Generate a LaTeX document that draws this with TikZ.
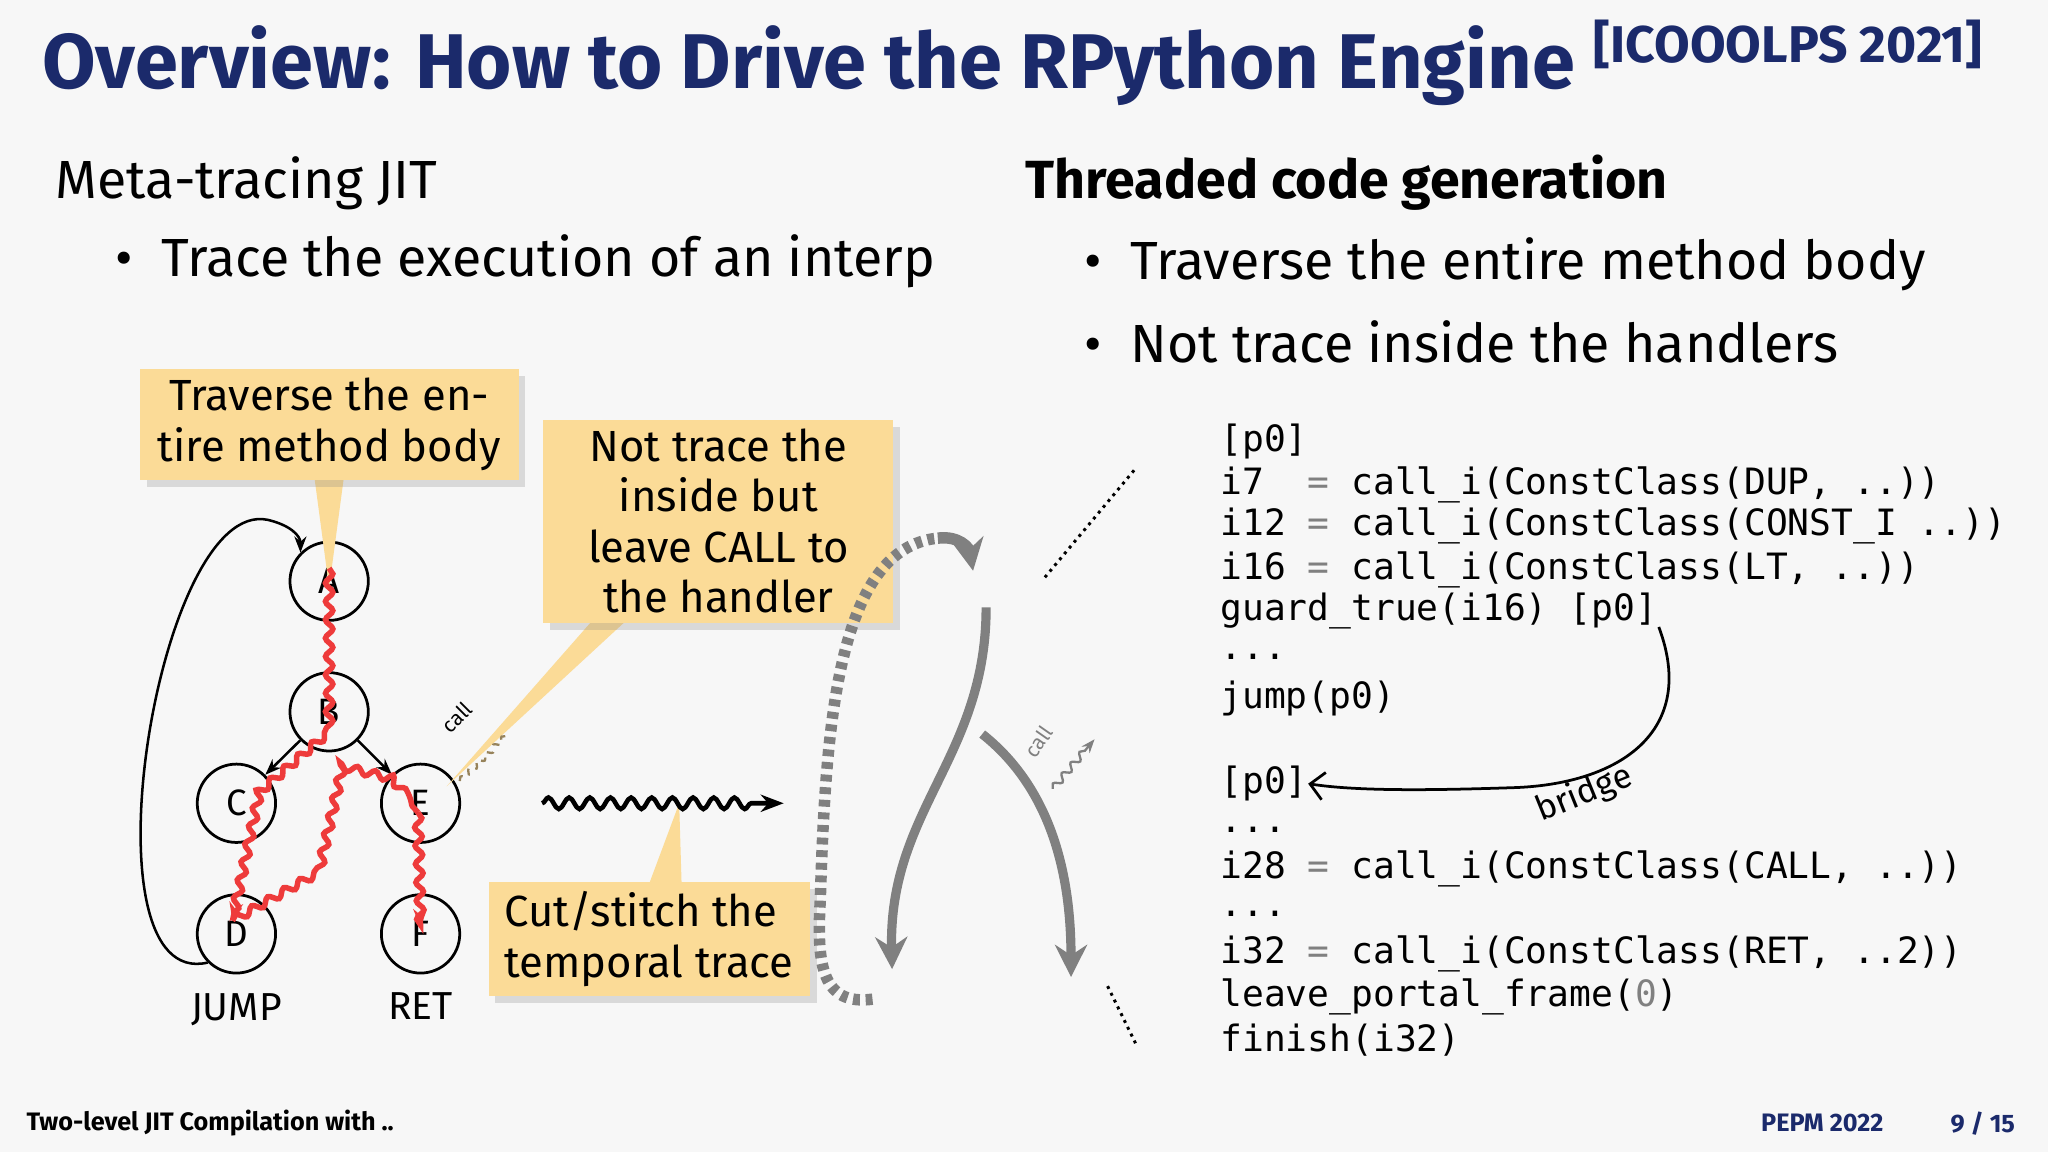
\documentclass[tikz,border=0pt]{standalone}
\usepackage{fontspec}
\setmainfont{Fira Sans}
\newfontfamily\codefont{DejaVu Sans Mono}
\usetikzlibrary{decorations.pathmorphing,shadows,arrows.meta}
\definecolor{titleblue}{HTML}{1B2A6B}
\definecolor{noteyellow}{HTML}{FBDB97}
\definecolor{graygray}{HTML}{808080}
\definecolor{trace}{HTML}{EE3B3B}
\begin{document}
\begin{tikzpicture}[x=0.02cm,y=-0.02cm,
  note/.style={fill=noteyellow,draw=none,inner sep=4pt,font=\fontsize{19}{22}\selectfont,drop shadow={shadow xshift=3pt,shadow yshift=-3pt,opacity=0.25}},
  st/.style={circle,draw,line width=1.2pt,minimum size=1.2cm,inner sep=0pt,font=\fontsize{16}{18}\selectfont},
  code/.style={anchor=west,inner sep=0pt,font=\codefont\fontsize{15.8}{18}\selectfont},
  body/.style={anchor=west,inner sep=0pt,font=\fontsize{23.4}{26}\selectfont},
  wav/.style={decorate,decoration={snake,amplitude=1.6pt,segment length=8pt}},
  gline/.style={draw=graygray,line width=4pt,-{Stealth[length=14pt,width=14pt]}}]
\useasboundingbox (0,0) rectangle (1568,882);
\fill[white!97!black] (0,0) rectangle (1568,882);
% title
\node[anchor=base west,inner sep=0pt,text=titleblue,font=\bfseries\fontsize{33.8}{36}\selectfont] (title) at (32,68) {Overview: How to Drive the RPython Engine};
\node[anchor=base west,inner sep=0pt,text=titleblue,font=\bfseries\fontsize{22.5}{24}\selectfont] (ref) at (1220,48) {[ICOOOLPS 2021]};
% left text
\node[body] (l1) at (42,140) {Meta-tracing JIT};
\node[body] (l2) at (88,200) {\textbullet\ \ Trace the execution of an interp};
\node[body,font=\bfseries\fontsize{23.4}{26}\selectfont] (r1) at (785,140) {Threaded code generation};
\node[body] (r2) at (830,202) {\textbullet\ \ Traverse the entire method body};
\node[body] (r3) at (830,262) {\textbullet\ \ Not trace inside the handlers};
% graph
\node[st] (A) at (252,445) {A};
\node[st] (B) at (252,545) {B};
\node[st] (C) at (181,615) {C};
\node[st] (E) at (322,615) {E};
\node[st] (D) at (181,715) {D};
\node[st] (F) at (322,715) {F};
\node[font=\fontsize{17}{19}\selectfont] (jump) at (181,773) {JUMP};
\node[font=\fontsize{17}{19}\selectfont] (ret) at (322,770) {RET};
\draw[line width=1.1pt,-{Stealth[length=7pt]}] (B) -- (C);
\draw[line width=1.1pt,-{Stealth[length=7pt]}] (B) -- (E);
\draw[line width=1.1pt,-{Stealth[length=7pt]}] (D.south west) .. controls (60,760) and (120,380) .. (205,398) .. controls (222,402) and (230,410) .. (A.north west);
% notes
\fill[noteyellow] (240,360) -- (252,450) -- (264,360) -- cycle;
\fill[noteyellow] (458,470) -- (342,602) -- (485,470) -- cycle;
\fill[noteyellow] (495,682) -- (520,615) -- (522,682) -- cycle;
\node[note,minimum width=5.8cm,minimum height=1.66cm,align=center] (n1) at (252,325) {Traverse the en-\\tire method body};
\node[note,minimum width=5.36cm,minimum height=3.08cm,align=center] (n2) at (550,399) {Not trace the\\inside but\\leave CALL to\\the handler};
\node[note,minimum width=4.92cm,minimum height=1.7cm,align=left] (n3) at (497,719) {Cut/stitch the\\temporal trace};
% red trace
\draw[trace,line width=2.4pt,wav,-{Stealth[length=8pt]}] (252,435) -- (252,555) -- (200,600) -- (178,705);
\draw[trace,line width=2.4pt,wav] (178,705) -- (240,670) -- (258,590) -- (300,600) -- (320,622);
\draw[trace,line width=2.4pt,wav,-{Stealth[length=8pt]}] (320,622) -- (322,710);
\node[rotate=45,font=\fontsize{9}{10}\selectfont] (call1) at (350,549) {call};
\coordinate (cw1) at (352,598);
\coordinate (cw2) at (388,563);
\draw[noteyellow!60!black,line width=1pt,dashed,decorate,decoration={snake,amplitude=1.2pt,segment length=5pt}] (cw1) -- (cw2);
% black wave arrow
\coordinate (w1) at (415,615);
\coordinate (w2) at (600,615);
\draw[line width=2pt,decorate,decoration={snake,amplitude=2.5pt,segment length=9pt,post length=10pt},-{Stealth[length=10pt]}] (w1) -- (w2);
% gray
\coordinate (g1) at (668,765);
\coordinate (g2) at (745,437);
\draw[graygray,line width=5pt,dash pattern=on 3pt off 2.5pt] (g1) .. controls (630,770) and (625,740) .. (628,690) .. controls (632,560) and (640,420) .. (718,412);
\draw[graygray,line width=5pt,-{Stealth[length=14pt,width=14pt]}] (718,412) .. controls (735,410) and (742,420) .. (g2);
\coordinate (s1) at (755,465);
\coordinate (s2) at (683,742);
\coordinate (t1) at (752,562);
\coordinate (t2) at (820,748);
\draw[gline] (s1) .. controls (755,580) and (680,620) .. (s2);
\draw[gline] (t1) .. controls (800,600) and (820,660) .. (t2);
\node[rotate=55,text=graygray,font=\fontsize{9}{10}\selectfont] (call2) at (795,568) {call};
\coordinate (cg1) at (806,604);
\coordinate (cg2) at (838,566);
\draw[graygray,line width=1pt,decorate,decoration={snake,amplitude=1.5pt,segment length=6pt,post length=5pt},-{Stealth[length=6pt]}] (cg1) -- (cg2);
\coordinate (d1) at (800,442); \coordinate (d2) at (870,358);
\draw[line width=1.3pt,dotted] (d1) -- (d2);
\coordinate (d3) at (848,755); \coordinate (d4) at (870,800);
\draw[line width=1.3pt,dotted] (d3) -- (d4);
% code
\node[code] (c1) at (934,338) {[p0]};
\node[code] (c2) at (934,371) {i7\ \ \textcolor{gray}{=} call\_i(ConstClass(DUP, ..))};
\node[code] (c3) at (934,403) {i12 \textcolor{gray}{=} call\_i(ConstClass(CONST\_I ..))};
\node[code] (c4) at (934,436) {i16 \textcolor{gray}{=} call\_i(ConstClass(LT, ..))};
\node[code] (c5) at (934,468) {guard\_true(i16) [p0]};
\node[code] (c6) at (934,503) {...};
\node[code] (c7) at (934,535) {jump(p0)};
\node[code] (c8) at (934,600) {[p0]};
\node[code] (c9) at (934,635) {...};
\node[code] (c10) at (934,665) {i28 \textcolor{gray}{=} call\_i(ConstClass(CALL, ..))};
\node[code] (c11) at (934,700) {...};
\node[code] (c12) at (934,730) {i32 \textcolor{gray}{=} call\_i(ConstClass(RET, ..2))};
\node[code] (c13) at (934,763) {leave\_portal\_frame(\textcolor{gray}{0})};
\node[code] (c14) at (934,796) {finish(i32)};
\coordinate (b1) at (1270,480);
\draw[line width=1.2pt,-{Straight Barb[length=6pt]}] (b1) .. controls (1300,560) and (1240,600) .. (1160,603) .. controls (1100,605) and (1040,606) .. (c8.east);
\node[rotate=22,font=\fontsize{15}{17}\selectfont] (bridge) at (1213,608) {bridge};
% footer
\node[anchor=west,inner sep=0pt,font=\bfseries\fontsize{11}{12}\selectfont] (f1) at (20,860) {Two-level JIT Compilation with ..};
\node[anchor=west,inner sep=0pt,text=titleblue,font=\bfseries\fontsize{11}{12}\selectfont] (f2) at (1348,860) {PEPM 2022};
\node[anchor=west,inner sep=0pt,text=titleblue,font=\bfseries\fontsize{11}{12}\selectfont] (f3) at (1493,860) {9 / 15};
\end{tikzpicture}
\end{document}
